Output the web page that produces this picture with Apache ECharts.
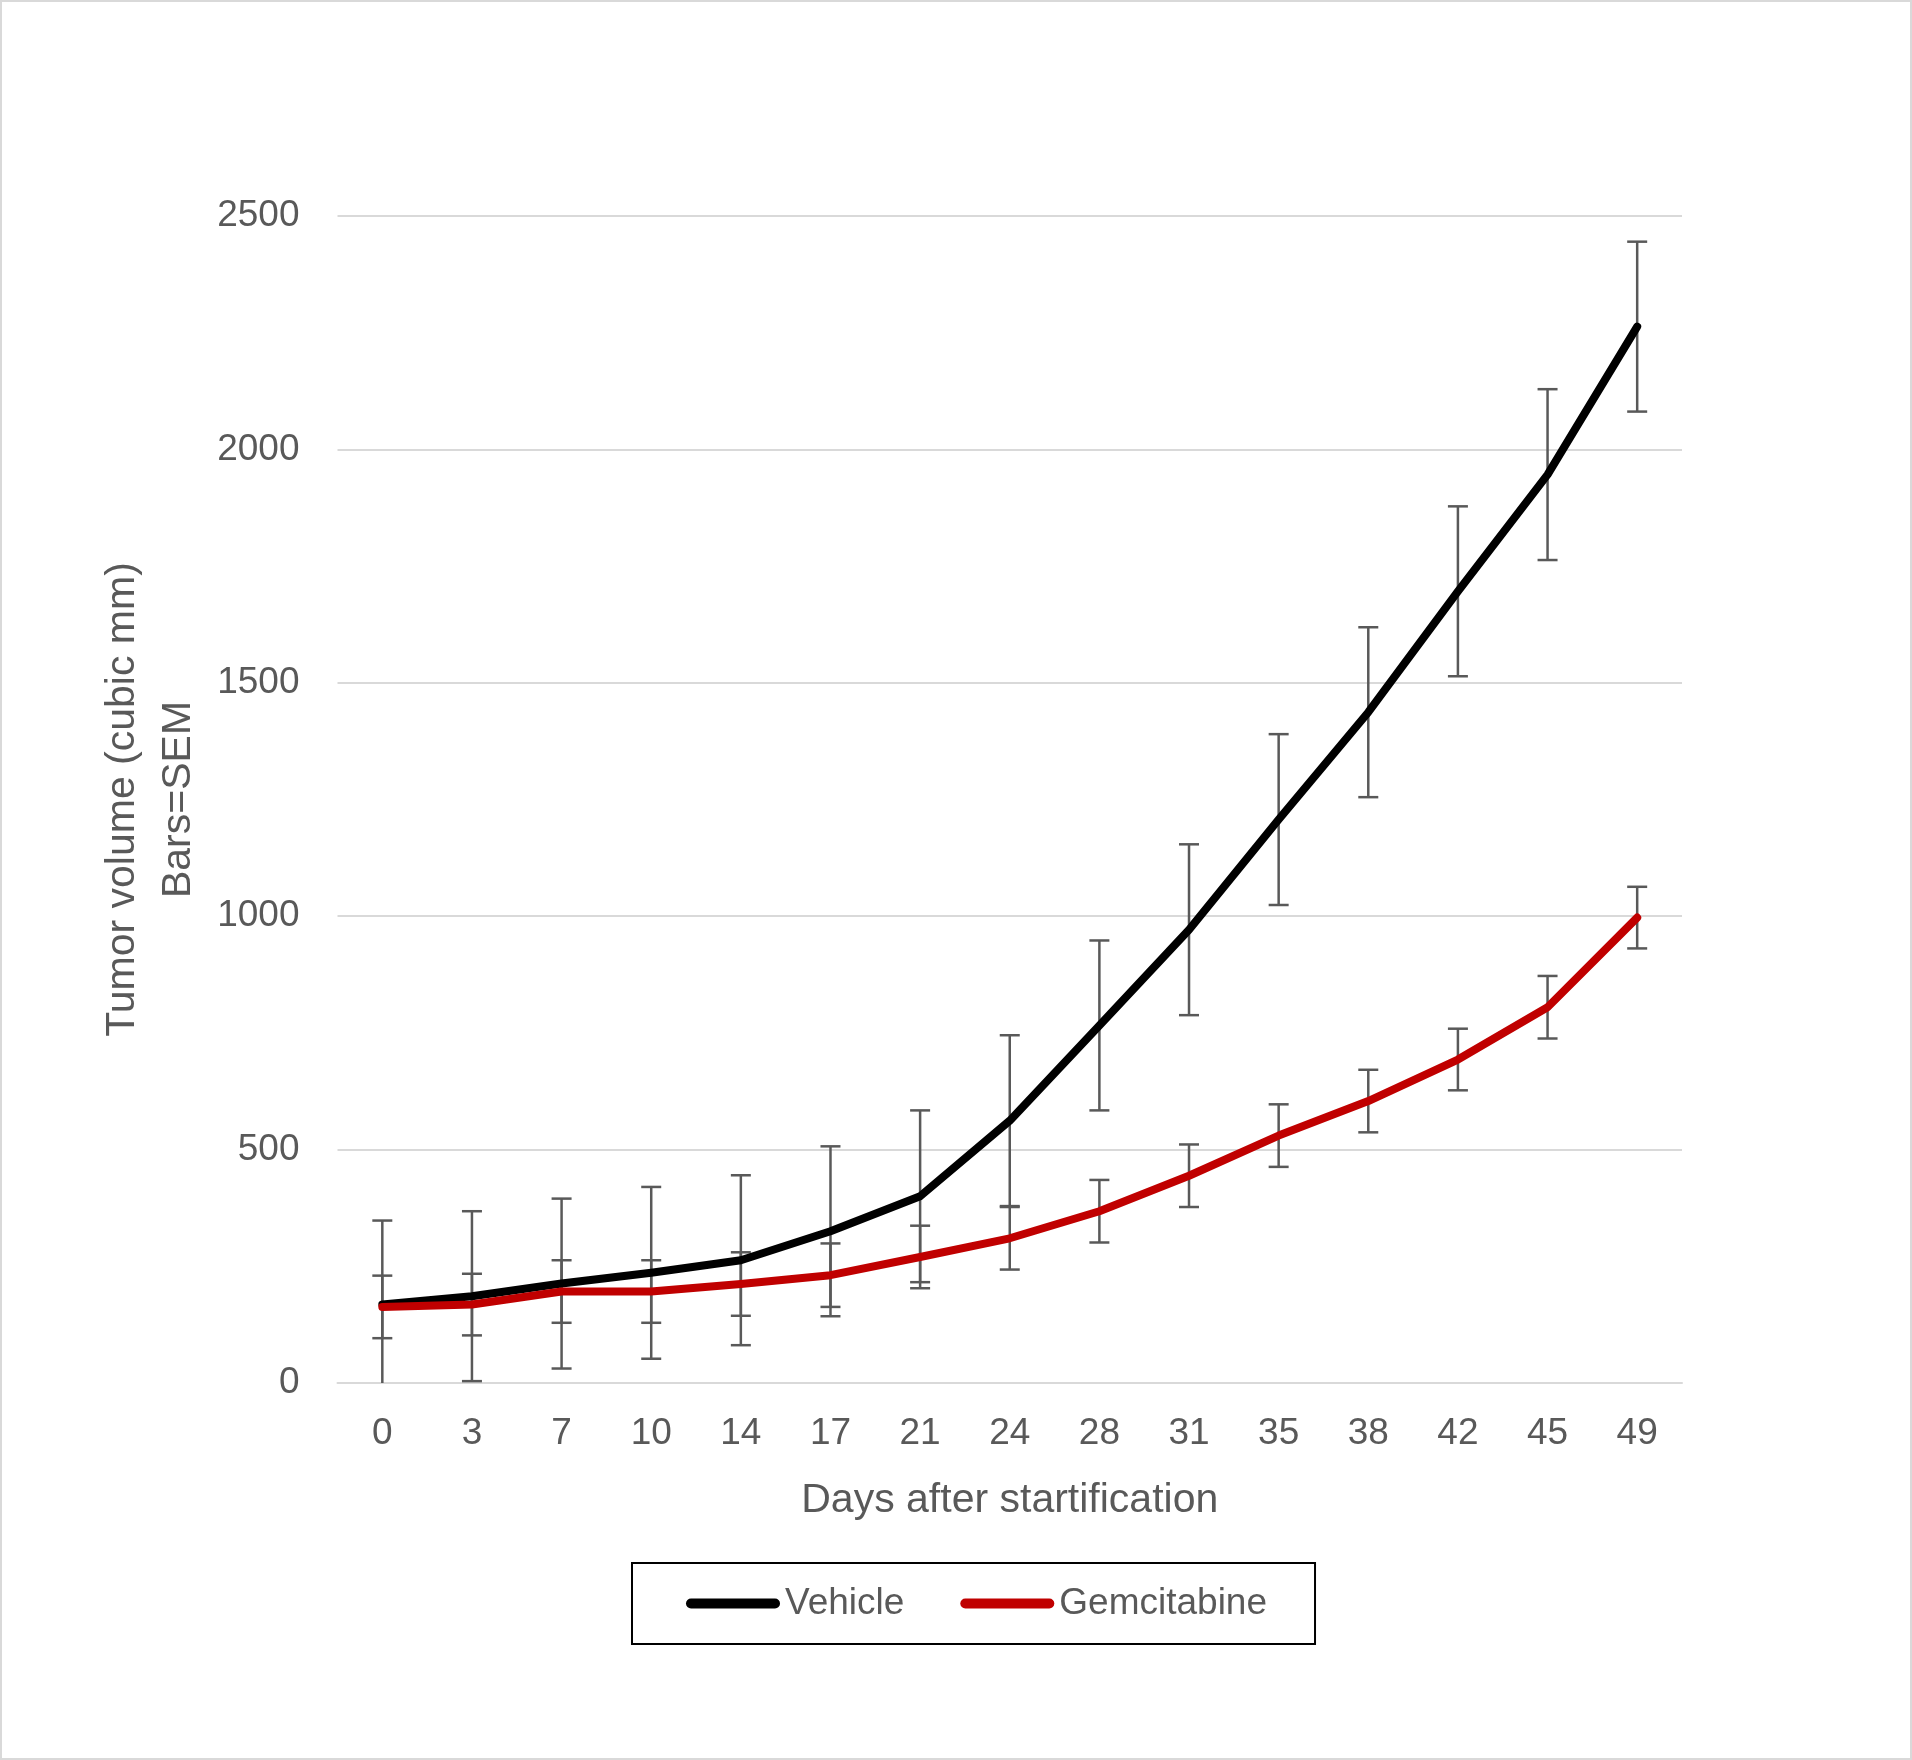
<!DOCTYPE html>
<html>
<head>
<meta charset="UTF-8" />
<script src="https://cdn.jsdelivr.net/npm/echarts@6/dist/echarts.min.js"></script>
<title>Tumor volume</title>
<style>
	body { margin: 0; background: #fff; }
	#main { width: 1912px; height: 1760px; }
</style>
</head>
<body>
<div id="main"></div>
<script type="text/javascript">
	// days after stratification
	var days = ['0', '3', '7', '10', '14', '17', '21', '24', '28', '31', '35', '38', '42', '45', '49'];
	// mean tumor volume (cubic mm) and SEM
	var vehicle = [168, 186, 213, 236, 263, 325, 400, 562, 766, 971, 1207, 1437, 1696, 1946, 2263];
	var vehicleSem = [180, 182, 182, 184, 182, 182, 184, 183, 182, 183, 183, 182, 182, 183, 182];
	var gemcitabine = [163, 168, 196, 196, 212, 231, 270, 310, 368, 444, 530, 604, 693, 805, 997];
	var gemcitabineSem = [67, 66, 67, 67, 68, 68, 67, 67, 67, 67, 67, 67, 66, 67, 66];
	var yTicks = [0, 500, 1000, 1500, 2000, 2500];

	var textColor = '#595959';
	var font = 'Liberation Sans';
	// thick rounded bar for the legend swatch
	var legendIcon = 'path://M5,0 L89,0 A5,5 0 0 1 89,10 L5,10 A5,5 0 0 1 5,0 Z';

	function errData(mean, sem) {
		var out = [];
		for (var i = 0; i < mean.length; i++) {
			out.push([i, mean[i] - sem[i], mean[i] + sem[i]]);
		}
		return out;
	}

	function renderErr(params, api) {
		var idx = api.value(0);
		var lo = api.value(1);
		var hi = api.value(2);
		var clipped = lo < 0;
		if (clipped) lo = 0;
		var top = api.coord([idx, hi]);
		var bot = api.coord([idx, lo]);
		var half = 10;
		var style = { stroke: '#595959', lineWidth: 2.5 };
		var kids = [
			{ type: 'line', shape: { x1: top[0], y1: top[1], x2: bot[0], y2: bot[1] }, style: style },
			{ type: 'line', shape: { x1: top[0] - half, y1: top[1], x2: top[0] + half, y2: top[1] }, style: style }
		];
		if (!clipped) {
			kids.push({ type: 'line', shape: { x1: bot[0] - half, y1: bot[1], x2: bot[0] + half, y2: bot[1] }, style: style });
		}
		return { type: 'group', children: kids };
	}

	var myChart = echarts.init(document.getElementById('main'));
	var option = {
		animation: false,
		backgroundColor: '#fff',
		textStyle: { fontFamily: font },
		graphic: [{
			type: 'rect',
			shape: { x: 1, y: 1, width: 1910, height: 1758 },
			style: { fill: 'none', stroke: '#d9d9d9', lineWidth: 2 }
		}],
		grid: { left: 337.5, right: 230, top: 216, bottom: 377 },
		legend: {
			left: 632,
			top: 1563,
			padding: [22, 48, 22, 54],
			borderColor: '#000',
			borderWidth: 2,
			itemWidth: 94,
			itemHeight: 10,
			itemGap: 56,
			textStyle: { color: textColor, fontSize: 37, fontFamily: font },
			data: [
				{ name: 'Vehicle', icon: legendIcon },
				{ name: 'Gemcitabine', icon: legendIcon }
			]
		},
		xAxis: {
			type: 'category',
			data: days,
			name: 'Days after startification',
			nameLocation: 'middle',
			nameGap: 97,
			nameTextStyle: { color: textColor, fontSize: 41, fontFamily: font },
			axisLine: { lineStyle: { color: '#d9d9d9', width: 2 } },
			axisTick: { show: false },
			axisLabel: { color: textColor, fontSize: 37, margin: 32, fontFamily: font }
		},
		yAxis: {
			type: 'value',
			min: yTicks[0],
			max: yTicks[yTicks.length - 1],
			interval: 500,
			name: 'Tumor volume (cubic mm)\nBars=SEM',
			nameLocation: 'middle',
			nameRotate: 90,
			nameGap: 124,
			nameTextStyle: { color: textColor, fontSize: 41, lineHeight: 56, fontFamily: font, align: 'center' },
			axisLine: { show: false },
			axisTick: { show: false },
			splitLine: { lineStyle: { color: '#d9d9d9', width: 2 } },
			axisLabel: {
				color: textColor, fontSize: 37, margin: 38, fontFamily: font,
				formatter: function (v) { return String(v); }
			}
		},
		series: [
			{
				type: 'custom',
				name: 'vehicleErr',
				renderItem: renderErr,
				data: errData(vehicle, vehicleSem),
				z: 1
			},
			{
				type: 'custom',
				name: 'gemErr',
				renderItem: renderErr,
				data: errData(gemcitabine, gemcitabineSem),
				z: 1
			},
			{
				type: 'line',
				name: 'Vehicle',
				data: vehicle,
				symbol: 'none',
				color: '#000000',
				lineStyle: { color: '#000000', width: 8, cap: 'round', join: 'round' },
				z: 3
			},
			{
				type: 'line',
				name: 'Gemcitabine',
				data: gemcitabine,
				symbol: 'none',
				color: '#c00000',
				lineStyle: { color: '#c00000', width: 8, cap: 'round', join: 'round' },
				z: 4
			}
		]
	};
	myChart.setOption(option);
</script>
</body>
</html>
